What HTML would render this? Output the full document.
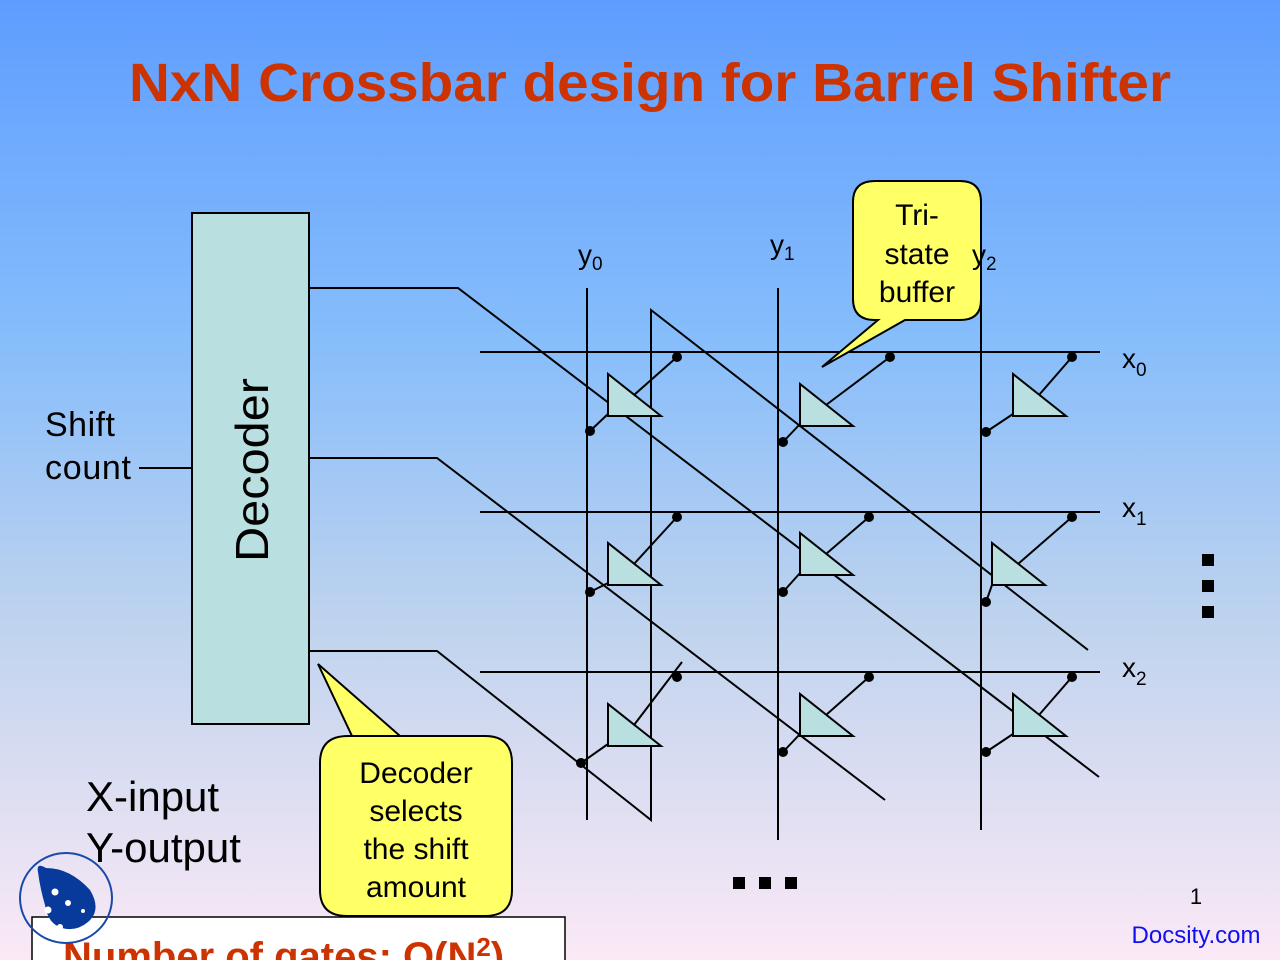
<!DOCTYPE html>
<html><head><meta charset="utf-8"><style>
html,body{margin:0;padding:0;width:1280px;height:960px;overflow:hidden}
svg{display:block}
text{font-family:"Liberation Sans",Arial,sans-serif}
</style></head><body>
<svg width="1280" height="960" viewBox="0 0 1280 960" xmlns="http://www.w3.org/2000/svg">
<defs>
<linearGradient id="bg" x1="0" y1="0" x2="0" y2="1">
<stop offset="0" stop-color="#5e9dff"/>
<stop offset="0.35" stop-color="#86bdfb"/>
<stop offset="0.65" stop-color="#bfd3ee"/>
<stop offset="1" stop-color="#fbe9f6"/>
</linearGradient>
</defs>
<rect width="1280" height="960" fill="url(#bg)"/>
<text x="650" y="101" text-anchor="middle" font-size="54" font-weight="bold" fill="#cc3300" textLength="1042" lengthAdjust="spacingAndGlyphs">NxN Crossbar design for Barrel Shifter</text>

<g stroke="#000" stroke-width="2" fill="none">
<rect x="192" y="213" width="117" height="511" fill="#b9dfe1"/>
<line x1="139" y1="468" x2="192" y2="468"/>
<polyline points="310,288 458,288 1099,777"/>
<polyline points="310,458 437,458 885,800"/>
<polyline points="310,651 437,651 651,820 651,310 1088,650"/>
<line x1="480" y1="352" x2="1100" y2="352"/>
<line x1="480" y1="512" x2="1100" y2="512"/>
<line x1="480" y1="672" x2="1100" y2="672"/>
<line x1="587" y1="288" x2="587" y2="820"/>
<line x1="778" y1="288" x2="778" y2="840"/>
<line x1="981" y1="288" x2="981" y2="830"/>
<line x1="590" y1="431" x2="608" y2="414"/><line x1="634" y1="395" x2="677" y2="357"/>
<line x1="783" y1="442" x2="800" y2="424"/><line x1="826" y1="405" x2="890" y2="357"/>
<line x1="986" y1="432" x2="1013" y2="414"/><line x1="1039" y1="395" x2="1072" y2="357"/>
<line x1="590" y1="592" x2="608" y2="583"/><line x1="634" y1="564" x2="677" y2="517"/>
<line x1="783" y1="592" x2="800" y2="573"/><line x1="826" y1="554" x2="869" y2="517"/>
<line x1="986" y1="602" x2="992" y2="585"/><line x1="1018" y1="564" x2="1072" y2="517"/>
<line x1="581" y1="763" x2="608" y2="744"/><line x1="634" y1="725" x2="682" y2="662"/>
<line x1="783" y1="752" x2="800" y2="734"/><line x1="826" y1="715" x2="869" y2="677"/>
<line x1="986" y1="752" x2="1013" y2="734"/><line x1="1039" y1="715" x2="1072" y2="677"/>
</g>
<g fill="#b9dfe1" stroke="#000" stroke-width="2">
<polygon points="608,374 608,416 661,416"/>
<polygon points="800,384 800,426 853,426"/>
<polygon points="1013,374 1013,416 1066,416"/>
<polygon points="608,543 608,585 661,585"/>
<polygon points="800,533 800,575 853,575"/>
<polygon points="992,543 992,585 1045,585"/>
<polygon points="608,704 608,746 661,746"/>
<polygon points="800,694 800,736 853,736"/>
<polygon points="1013,694 1013,736 1066,736"/>
</g>
<g fill="#000">
<circle cx="590" cy="431" r="5"/><circle cx="677" cy="357" r="5"/>
<circle cx="783" cy="442" r="5"/><circle cx="890" cy="357" r="5"/>
<circle cx="986" cy="432" r="5"/><circle cx="1072" cy="357" r="5"/>
<circle cx="590" cy="592" r="5"/><circle cx="677" cy="517" r="5"/>
<circle cx="783" cy="592" r="5"/><circle cx="869" cy="517" r="5"/>
<circle cx="986" cy="602" r="5"/><circle cx="1072" cy="517" r="5"/>
<circle cx="581" cy="763" r="5"/><circle cx="677" cy="677" r="5"/>
<circle cx="783" cy="752" r="5"/><circle cx="869" cy="677" r="5"/>
<circle cx="986" cy="752" r="5"/><circle cx="1072" cy="677" r="5"/>
<rect x="1202" y="554" width="12" height="12"/><rect x="1202" y="580" width="12" height="12"/><rect x="1202" y="606" width="12" height="12"/>
<rect x="733" y="877" width="12" height="12"/><rect x="759" y="877" width="12" height="12"/><rect x="785" y="877" width="12" height="12"/>
</g>

<g font-size="28" fill="#000">
<text x="578" y="264">y<tspan font-size="19" dy="6">0</tspan></text>
<text x="770" y="254">y<tspan font-size="19" dy="6">1</tspan></text>
<text x="1122" y="368">x<tspan font-size="19" dy="8">0</tspan></text>
<text x="1122" y="517">x<tspan font-size="19" dy="8">1</tspan></text>
<text x="1122" y="677">x<tspan font-size="19" dy="8">2</tspan></text>
<text x="45" y="436" font-size="34" textLength="70">Shift</text>
<text x="45" y="479" font-size="34" textLength="86">count</text>
<text x="86" y="811" font-size="42">X-input</text>
<text x="86" y="862" font-size="42">Y-output</text>
</g>
<text transform="translate(268,470) rotate(-90)" text-anchor="middle" font-size="46" fill="#000" textLength="184" lengthAdjust="spacingAndGlyphs">Decoder</text>

<path d="M875,181 H960 Q981,181 981,202 V300 Q981,320 960,320 H905 L822,367 L878,320 H875 Q853,320 853,299 V202 Q853,181 875,181 Z" fill="#ffff66" stroke="#000" stroke-width="2"/>
<g font-size="30" text-anchor="middle" fill="#000">
<text x="917" y="225">Tri-</text><text x="917" y="264">state</text><text x="917" y="302">buffer</text>
</g>
<text x="972" y="264" font-size="28" fill="#000">y<tspan font-size="19" dy="6">2</tspan></text>
<path d="M348,736 H485 Q512,736 512,763 V890 Q512,916 485,916 H347 Q320,916 320,890 V763 Q320,736 348,736 H352 L318,664 L400,736 Z" fill="#ffff66" stroke="#000" stroke-width="2"/>
<g font-size="30" text-anchor="middle" fill="#000">
<text x="416" y="783">Decoder</text><text x="416" y="821">selects</text><text x="416" y="859">the shift</text><text x="416" y="897">amount</text>
</g>

<rect x="32" y="917" width="533" height="50" fill="#fff" stroke="#000" stroke-width="1.5"/>
<text x="63" y="970" font-size="40" font-weight="bold" fill="#cc3300">Number of gates: O(N<tspan font-size="26" dy="-14">2</tspan><tspan dy="14">)</tspan></text>
<ellipse cx="66" cy="898" rx="46" ry="45" fill="none" stroke="#1a4aa8" stroke-width="2"/>
<path d="M38,872 Q36,862 46,868 Q70,868 90,890 Q102,910 88,922 Q76,932 62,928 Q48,924 45,905 Q40,888 38,872 Z" fill="#073a9a"/>
<g fill="#fff"><circle cx="55" cy="892" r="3.5"/><circle cx="68" cy="903" r="3"/><circle cx="48" cy="910" r="3.5"/><circle cx="60" cy="927" r="3"/><circle cx="83" cy="911" r="2"/></g>

<text x="1196" y="904" font-size="22" text-anchor="middle" fill="#000">1</text>
<text x="1196" y="943" font-size="24" text-anchor="middle" fill="#1010ee">Docsity.com</text>
</svg>
</body></html>
